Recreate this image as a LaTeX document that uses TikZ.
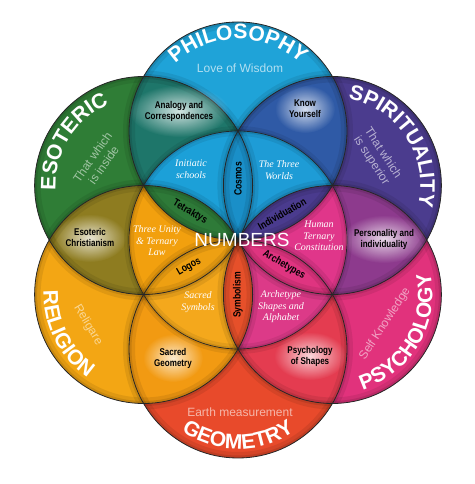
\documentclass[tikz,border=0pt]{standalone}
\usepackage{fontspec}
\setmainfont{Liberation Sans}
\newfontfamily\condfont[FakeStretch=0.82]{Liberation Sans}
\newfontfamily\scriptit{Liberation Serif}
\usetikzlibrary{decorations.text,fadings}
\definecolor{cP}{HTML}{1FA3D8}
\definecolor{cE}{HTML}{2F7D36}
\definecolor{cS}{HTML}{4B3C8E}
\definecolor{cPs}{HTML}{E1327C}
\definecolor{cG}{HTML}{E84A2B}
\definecolor{cR}{HTML}{F3A614}
\definecolor{oEP}{HTML}{1E766A}
\definecolor{oPS}{HTML}{2F5AA6}
\definecolor{oSPs}{HTML}{8D3A8D}
\definecolor{oPsG}{HTML}{E43C50}
\definecolor{oGR}{HTML}{F29A12}
\definecolor{oRE}{HTML}{8E7C20}
\definecolor{pEP}{HTML}{1CA0D8}
\definecolor{pPS}{HTML}{1E9CD6}
\definecolor{pSPs}{HTML}{E0368A}
\definecolor{pPsG}{HTML}{DC3A88}
\definecolor{pGR}{HTML}{F4A81C}
\definecolor{pRE}{HTML}{F2A00E}
\definecolor{lCos}{HTML}{1A8FC8}
\definecolor{lTet}{HTML}{2E7A38}
\definecolor{lInd}{HTML}{4A3B8E}
\definecolor{lLog}{HTML}{EEA012}
\definecolor{lArc}{HTML}{DF3480}
\definecolor{lSym}{HTML}{E6502A}
\tikzfading[name=glow, inner color=transparent!0, outer color=transparent!100]
\def\R{109}
\newcommand{\pairfill}[3]{\begin{scope}\clip (#1:\R) circle (\R);\fill[#3] (#2:\R) circle (\R);\end{scope}}
\newcommand{\petalfill}[3]{\begin{scope}\clip (0,0) circle (\R);\clip (#1:\R) circle (\R);\fill[#3] (#2:\R) circle (\R);\end{scope}}
\newcommand{\titlefmt}{\bfseries\fontsize{21}{21}\selectfont}
\begin{document}
\begin{tikzpicture}[x=1pt,y=1pt,
  lenslab/.style={font=\condfont\bfseries\fontsize{10.5}{11}\selectfont, text=black, inner sep=0},
  ovlab/.style={font=\condfont\bfseries\fontsize{9.8}{11}\selectfont, text=black, align=center, inner sep=0},
  petlab/.style={font=\scriptit\itshape\fontsize{10}{11.5}\selectfont, text=white, align=center, inner sep=0},
  sublab/.style={font=\fontsize{12}{13.5}\selectfont, align=center, inner sep=0},
  tpath/.style={decorate, decoration={text along path, text align=center, text color=white, text={|\titlefmt|#1}}}
]
\useasboundingbox (0,0) rectangle (474,484);
\fill[white] (0,0) rectangle (474,484);
\begin{scope}[shift={(238,244)}]
  % base circles
  \fill[cP] (90:\R) circle (\R);
  \fill[cS] (30:\R) circle (\R);
  \fill[cPs] (-30:\R) circle (\R);
  \fill[cG] (270:\R) circle (\R);
  \fill[cR] (210:\R) circle (\R);
  \fill[cE] (150:\R) circle (\R);
  % outer overlaps
  \pairfill{150}{90}{oEP}
  \pairfill{90}{30}{oPS}
  \pairfill{30}{-30}{oSPs}
  \pairfill{-30}{270}{oPsG}
  \pairfill{270}{210}{oGR}
  \pairfill{210}{150}{oRE}
  % inner petals
  \petalfill{150}{90}{pEP}
  \petalfill{90}{30}{pPS}
  \petalfill{30}{-30}{pSPs}
  \petalfill{-30}{270}{pPsG}
  \petalfill{270}{210}{pGR}
  \petalfill{210}{150}{pRE}
  % lenses
  \pairfill{150}{30}{lCos}
  \pairfill{90}{210}{lTet}
  \pairfill{90}{-30}{lInd}
  \pairfill{150}{270}{lLog}
  \pairfill{30}{270}{lArc}
  \pairfill{210}{-30}{lSym}
  % rim shading
  \begin{scope}
    \clip (90:\R) circle (\R) (30:\R) circle (\R) (-30:\R) circle (\R) (270:\R) circle (\R) (210:\R) circle (\R) (150:\R) circle (\R);
    \foreach \a in {90,30,-30,270,210,150} {
      \draw[black, opacity=0.08, line width=12] (\a:\R) circle (\R);
      \draw[black, opacity=0.10, line width=5] (\a:\R) circle (\R);
    }
    \draw[black, opacity=0.07, line width=10] (0,0) circle (\R);
    \draw[black, opacity=0.10, line width=4] (0,0) circle (\R);
  \end{scope}
  % outlines
  \foreach \a in {90,30,-30,270,210,150}
    \draw[black!85, line width=0.8] (\a:\R) circle (\R);
  \draw[black!85, line width=0.7] (0,0) circle (\R);
  % curved titles
  \path[tpath=PHILOSOPHY] (90:\R) ++(150:92) arc[start angle=150, end angle=30, radius=92];
  \path[tpath=ESOTERIC] (150:\R) ++(208:88) arc[start angle=208, end angle=88, radius=88];
  \path[tpath=SPIRITUALITY] (30:\R) ++(93:88) arc[start angle=93, end angle=-27, radius=88];
  \path[tpath=RELIGION] (210:\R) ++(147:100) arc[start angle=147, end angle=267, radius=100];
  \path[tpath=GEOMETRY] (270:\R) ++(210:100) arc[start angle=210, end angle=330, radius=100];
  \path[tpath=PSYCHOLOGY] (-30:\R) ++(-90:100) arc[start angle=-90, end angle=30, radius=100];
\end{scope}
% glows
\foreach \x/\y/\w/\h in {179/373/50/26, 305/375/30/24, 90/246/36/24, 384/245/42/24, 173/126/30/24, 310/128/36/24}
  \fill[white, opacity=0.8, path fading=glow] (\x,\y) ellipse ({\w} and {\h});
% subtitles
\node[sublab, text=cP!35] (love) at (240,416) {Love of Wisdom};
\node[sublab, text=cG!40] (earth) at (240,72) {Earth measurement};
\node[sublab, text=cE!45, rotate=55] (inside) at (98,323) {That which\\is inside};
\node[sublab, text=cS!40, rotate=-57] (superior) at (377,327) {That which\\is superior};
\node[sublab, text=cR!45, rotate=-59] (religare) at (88,159) {Religare};
\node[sublab, text=cPs!45, rotate=57] (selfk) at (385,160) {Self Knowledge};
% center
\node[font=\fontsize{19}{19}\selectfont, text=white, inner sep=0] (numbers) at (242,244) {NUMBERS};
% petals
\node[petlab] (initiatic) at (191,315) {Initiatic\\schools};
\node[petlab] (threeworlds) at (279,314) {The Three\\Worlds};
\node[petlab] (threeunity) at (157,243) {Three Unity\\\& Ternary\\Law};
\node[petlab] (human) at (319,248) {Human\\Ternary\\Constitution};
\node[petlab] (sacredsym) at (198,182) {Sacred\\Symbols};
\node[petlab] (archshapes) at (281,177) {Archetype\\Shapes and\\Alphabet};
% lenses
\node[lenslab, rotate=90] (cosmos) at (238,305) {Cosmos};
\node[lenslab, rotate=-30] (tetraktys) at (190,272) {Tetraktys};
\node[lenslab, rotate=30] (individuation) at (282,270) {Individuation};
\node[lenslab, rotate=30] (logos) at (189,217) {Logos};
\node[lenslab, rotate=-30] (archetypes) at (284,219) {Archetypes};
\node[lenslab, rotate=90] (symbolism) at (238,189) {Symbolism};
% outer overlaps
\node[ovlab] (analogy) at (179,373) {Analogy and\\Correspondences};
\node[ovlab] (knowy) at (305,375) {Know\\Yourself};
\node[ovlab] (esochr) at (90,246) {Esoteric\\Christianism};
\node[ovlab] (person) at (384,245) {Personality and\\individuality};
\node[ovlab] (sacredgeo) at (173,126) {Sacred\\Geometry};
\node[ovlab] (psyshapes) at (310,128) {Psychology\\of Shapes};
\end{tikzpicture}
\end{document}
